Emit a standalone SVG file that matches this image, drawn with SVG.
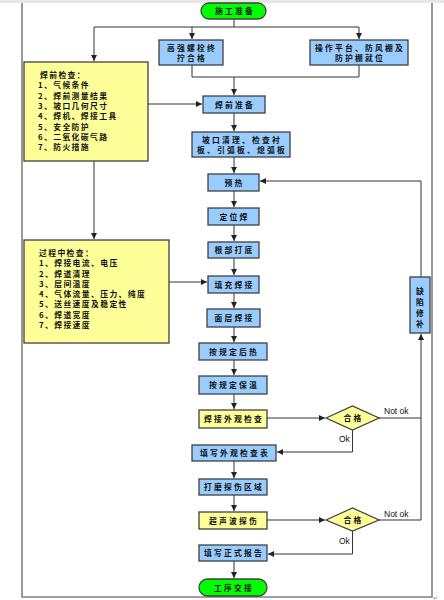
<svg xmlns="http://www.w3.org/2000/svg" width="444" height="600" viewBox="0 0 444 600">
<defs>
<marker id="arr" markerWidth="7" markerHeight="6" refX="6" refY="3" orient="auto" markerUnits="userSpaceOnUse">
<path d="M0,0 L6,3 L0,6 Z" fill="#222"/>
</marker>
<style>
.blue{fill:#99CCFF;stroke:#404040;stroke-width:1.3}
.yel{fill:#FFFF99;stroke:#404040;stroke-width:1.3}
.grn{fill:#00FF00;stroke:#404040;stroke-width:1.3}
.t{font-family:"Noto Sans CJK SC","Noto Sans",sans-serif;font-size:7.8px;font-weight:bold;fill:#111;letter-spacing:2.2px;text-anchor:middle}
.ty{font-family:"Noto Sans CJK SC","Noto Sans",sans-serif;font-size:7.8px;font-weight:bold;fill:#111;letter-spacing:1.4px}
.lab{font-family:"Liberation Sans",Arial,sans-serif;font-size:8.5px;fill:#111}
.c{fill:none;stroke:#333;stroke-width:1}
</style>
</defs>
<rect x="0" y="0" width="444" height="600" fill="#fff"/>
<rect x="0" y="0" width="444" height="3" fill="#e6e6e6"/>
<path d="M22,3 V597 H432 V3" fill="none" stroke="#808080" stroke-width="1.6"/>
<text x="433" y="600" font-family="Liberation Sans,sans-serif" font-size="6" fill="#888">↵</text>

<g id="connectors">
<path class="c" d="M234,19 V27"/>
<path class="c" d="M94,27 H359"/>
<path class="c" d="M94,27 V61" marker-end="url(#arr)"/>
<path class="c" d="M192,27 V39" marker-end="url(#arr)"/>
<path class="c" d="M359,27 V39" marker-end="url(#arr)"/>
<path class="c" d="M192,65 V77 H359 V65"/>
<path class="c" d="M234,77 V95" marker-end="url(#arr)"/>
<path class="c" d="M148,104 H202" marker-end="url(#arr)"/>
<path class="c" d="M234,113 V131" marker-end="url(#arr)"/>
<path class="c" d="M234,157 V173" marker-end="url(#arr)"/>
<path class="c" d="M234,191 V207" marker-end="url(#arr)"/>
<path class="c" d="M234,225 V241" marker-end="url(#arr)"/>
<path class="c" d="M234,258 V275" marker-end="url(#arr)"/>
<path class="c" d="M234,293 V308" marker-end="url(#arr)"/>
<path class="c" d="M234,327 V342" marker-end="url(#arr)"/>
<path class="c" d="M234,360 V375" marker-end="url(#arr)"/>
<path class="c" d="M234,394 V409" marker-end="url(#arr)"/>
<path class="c" d="M94,161 V239" marker-end="url(#arr)"/>
<path class="c" d="M169,282 H207" marker-end="url(#arr)"/>
<path class="c" d="M267,418 H325" marker-end="url(#arr)"/>
<path class="c" d="M379,418 H421"/>
<path class="c" d="M379,520 H421 V334" marker-end="url(#arr)"/>
<path class="c" d="M421,277 V181 H260" marker-end="url(#arr)"/>
<path class="c" d="M352.5,430 V452 H277" marker-end="url(#arr)"/>
<path class="c" d="M234,461 V478" marker-end="url(#arr)"/>
<path class="c" d="M234,495 V511" marker-end="url(#arr)"/>
<path class="c" d="M267,520 H325" marker-end="url(#arr)"/>
<path class="c" d="M352.5,531 V554 H268" marker-end="url(#arr)"/>
<path class="c" d="M234,561 V578" marker-end="url(#arr)"/>
<text class="lab" x="384" y="414">Not ok</text>
<text class="lab" x="339" y="442">Ok</text>
<text class="lab" x="384" y="517">Not ok</text>
<text class="lab" x="339" y="544">Ok</text>
</g>

<g id="start"><rect class="grn" x="201" y="3" width="65" height="16" rx="8"/><text class="t" x="235" y="14">施工准备</text></g>
<g id="bolt"><rect class="blue" x="159" y="40" width="64" height="25"/><text class="t" x="192" y="51">高强螺栓终</text><text class="t" x="192" y="61">拧合格</text></g>
<g id="platform"><rect class="blue" x="310" y="40" width="98" height="25"/><text class="t" x="360" y="51">操作平台、防风棚及</text><text class="t" x="360" y="61">防护棚就位</text></g>
<g id="precheck"><rect class="yel" x="24" y="62" width="124" height="99"/>
<text class="ty" x="40" y="78">焊前检查：</text>
<text class="ty" x="38" y="88">1、气候条件</text>
<text class="ty" x="38" y="99">2、焊前测量结果</text>
<text class="ty" x="38" y="109">3、坡口几何尺寸</text>
<text class="ty" x="38" y="119">4、焊机、焊接工具</text>
<text class="ty" x="38" y="130">5、安全防护</text>
<text class="ty" x="38" y="140">6、二氧化碳气路</text>
<text class="ty" x="38" y="150">7、防火措施</text>
</g>
<g id="prep"><rect class="blue" x="203" y="96" width="62" height="17"/><text class="t" x="235" y="108">焊前准备</text></g>
<g id="groove"><rect class="blue" x="192" y="132" width="98" height="25"/><text class="t" x="242" y="143">坡口清理、检查衬</text><text class="t" x="242" y="153">板、引弧板、熄弧板</text></g>
<g id="preheat"><rect class="blue" x="208" y="174" width="51" height="17"/><text class="t" x="234.5" y="186">预热</text></g>
<g id="tack"><rect class="blue" x="208" y="208" width="51" height="17"/><text class="t" x="234.5" y="220">定位焊</text></g>
<g id="root"><rect class="blue" x="208" y="242" width="51" height="16"/><text class="t" x="234.5" y="253">根部打底</text></g>
<g id="fill"><rect class="blue" x="208" y="276" width="51" height="17"/><text class="t" x="234.5" y="288">填充焊接</text></g>
<g id="cap"><rect class="blue" x="207" y="309" width="53" height="18"/><text class="t" x="234.5" y="321">面层焊接</text></g>
<g id="inproc"><rect class="yel" x="24" y="240" width="145" height="103"/>
<text class="ty" x="39" y="256">过程中检查：</text>
<text class="ty" x="39" y="266">1、焊接电流、电压</text>
<text class="ty" x="39" y="277">2、焊道清理</text>
<text class="ty" x="39" y="287">3、层间温度</text>
<text class="ty" x="39" y="297">4、气体流量、压力、纯度</text>
<text class="ty" x="39" y="307">5、送丝速度及稳定性</text>
<text class="ty" x="39" y="318">6、焊道宽度</text>
<text class="ty" x="39" y="328">7、焊接速度</text>
</g>
<g id="postheat"><rect class="blue" x="199" y="343" width="68" height="17"/><text class="t" x="234" y="355">按规定后热</text></g>
<g id="keep"><rect class="blue" x="199" y="376" width="68" height="18"/><text class="t" x="234" y="388">按规定保温</text></g>
<g id="visual"><rect class="yel" x="199" y="410" width="68" height="18"/><text class="t" x="234" y="422">焊接外观检查</text></g>
<g id="dia1"><path class="yel" d="M326,418 L352.5,406 L379,418 L352.5,430 Z"/><text class="t" x="353.5" y="421">合格</text></g>
<g id="repair"><rect class="blue" x="410" y="277" width="20" height="56"/>
<text class="t" x="420" y="294" style="letter-spacing:0">缺</text><text class="t" x="420" y="305" style="letter-spacing:0">陷</text><text class="t" x="420" y="316" style="letter-spacing:0">修</text><text class="t" x="420" y="327" style="letter-spacing:0">补</text></g>
<g id="vform"><rect class="blue" x="192" y="445" width="84" height="16"/><text class="t" x="235" y="456">填写外观检查表</text></g>
<g id="grind"><rect class="blue" x="199" y="479" width="68" height="16"/><text class="t" x="234" y="490">打磨探伤区域</text></g>
<g id="ut"><rect class="yel" x="199" y="512" width="68" height="17"/><text class="t" x="234" y="524">超声波探伤</text></g>
<g id="dia2"><path class="yel" d="M326,520 L352.5,508 L379,520 L352.5,531 Z"/><text class="t" x="353.5" y="523">合格</text></g>
<g id="report"><rect class="blue" x="199" y="545" width="68" height="16"/><text class="t" x="234" y="556">填写正式报告</text></g>
<g id="end"><rect class="grn" x="199" y="579" width="68" height="17" rx="8.5"/><text class="t" x="234" y="591">工序交接</text></g>
</svg>
